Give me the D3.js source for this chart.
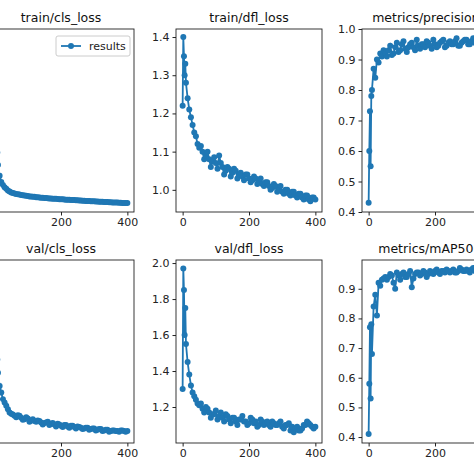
<!DOCTYPE html><html><head><meta charset="utf-8">
<script src="https://cdn.jsdelivr.net/npm/d3@7"></script>
<style>body{margin:0;background:#fff}</style></head><body><svg id="c" width="474" height="474"></svg>
<script>
const epochs=[0,2,4,6,8,10,15,20,25,30,35,40,45,50,60,70,80,90,100,110,120,130,140,150,160,170,180,190,200,210,220,230,240,250,260,270,280,290,300,310,320,330,340,350,360,370,380,390,400,
 55,65,75,85,95,105,115,125,135,145,155,165,175,185,195,205,215,225,235,245,255,265,275,285,295,305,315,325,335,345,355,365,375,385,395];
const trainCls=[1.8,1.3,0.95,0.75,0.62,0.54,0.47,0.43,0.41,0.395,0.385,0.375,0.368,0.362,0.355,0.35,0.345,0.342,0.338,0.335,0.333,0.330,0.328,0.326,0.324,0.322,0.321,0.319,0.318,0.316,0.315,0.313,0.312,0.311,0.309,0.308,0.307,0.305,0.304,0.303,0.302,0.300,0.299,0.298,0.297,0.296,0.295,0.294,0.293,
 0.358,0.352,0.348,0.343,0.340,0.336,0.334,0.331,0.329,0.327,0.325,0.323,0.321,0.320,0.318,0.317,0.315,0.314,0.312,0.311,0.310,0.308,0.307,0.306,0.305,0.303,0.302,0.301,0.300,0.298,0.297,0.296,0.295,0.294,0.293];
const trainDfl=[1.22,1.40,1.35,1.30,1.33,1.28,1.24,1.21,1.19,1.17,1.15,1.14,1.12,1.11,1.10,1.09,1.08,1.075,1.07,1.09,1.06,1.05,1.055,1.045,1.05,1.04,1.035,1.04,1.03,1.025,1.03,1.02,1.015,1.02,1.01,1.005,1.01,1.0,0.995,1.0,0.99,0.995,0.985,0.99,0.98,0.985,0.975,0.98,0.975,
 1.115,1.08,1.10,1.06,1.085,1.055,1.07,1.04,1.06,1.035,1.055,1.03,1.045,1.025,1.04,1.02,1.035,1.015,1.03,1.01,1.02,1.0,1.015,0.995,1.01,0.99,1.0,0.985,0.995,0.98,0.99,0.975,0.985,0.97,0.98];
const precision=[0.43,0.60,0.73,0.55,0.78,0.80,0.87,0.84,0.90,0.89,0.92,0.91,0.93,0.92,0.93,0.915,0.94,0.925,0.95,0.935,0.94,0.955,0.93,0.945,0.95,0.94,0.955,0.935,0.95,0.945,0.96,0.94,0.955,0.95,0.96,0.945,0.955,0.965,0.95,0.96,0.955,0.965,0.95,0.96,0.965,0.955,0.96,0.965,0.96,
 0.91,0.945,0.92,0.955,0.93,0.96,0.925,0.95,0.94,0.965,0.935,0.95,0.96,0.945,0.965,0.94,0.955,0.965,0.945,0.96,0.95,0.97,0.945,0.96,0.965,0.95,0.97,0.955,0.965,0.95,0.97,0.96,0.955,0.97,0.96];
const valCls=[2.8,2.5,2.2,2.0,1.8,1.6,1.4,1.3,1.2,1.15,1.1,1.05,1.0,0.98,0.95,0.96,0.92,0.9,0.91,0.88,0.87,0.88,0.85,0.84,0.86,0.83,0.82,0.83,0.8,0.81,0.79,0.8,0.78,0.79,0.77,0.76,0.77,0.75,0.76,0.74,0.75,0.73,0.74,0.72,0.73,0.72,0.73,0.72,0.72,
 0.97,0.93,0.95,0.89,0.93,0.86,0.9,0.86,0.87,0.82,0.85,0.81,0.84,0.79,0.82,0.78,0.81,0.77,0.8,0.76,0.78,0.75,0.77,0.74,0.76,0.73,0.75,0.72,0.74,0.71,0.73,0.72,0.71,0.73,0.71];
const valDfl=[1.3,1.97,1.85,1.6,1.75,1.55,1.45,1.38,1.32,1.28,1.26,1.24,1.22,1.21,1.19,1.2,1.17,1.16,1.18,1.15,1.14,1.16,1.13,1.14,1.12,1.13,1.15,1.12,1.11,1.13,1.12,1.1,1.12,1.11,1.1,1.12,1.1,1.11,1.09,1.1,1.11,1.09,1.08,1.07,1.08,1.1,1.11,1.09,1.09,
 1.22,1.17,1.19,1.14,1.16,1.13,1.17,1.12,1.15,1.11,1.14,1.1,1.13,1.12,1.1,1.14,1.11,1.09,1.13,1.1,1.12,1.09,1.11,1.1,1.12,1.08,1.1,1.07,1.06,1.09,1.07,1.1,1.12,1.1,1.08];
const mAP50=[0.41,0.58,0.77,0.53,0.78,0.68,0.84,0.88,0.81,0.92,0.91,0.93,0.935,0.94,0.94,0.945,0.9,0.945,0.95,0.94,0.95,0.905,0.95,0.955,0.95,0.955,0.95,0.955,0.96,0.955,0.96,0.955,0.96,0.96,0.955,0.96,0.965,0.96,0.96,0.965,0.96,0.965,0.96,0.965,0.965,0.96,0.965,0.965,0.965,
 0.93,0.95,0.92,0.955,0.93,0.955,0.94,0.96,0.935,0.955,0.945,0.96,0.94,0.96,0.95,0.965,0.95,0.96,0.965,0.955,0.965,0.955,0.97,0.96,0.965,0.955,0.97,0.96,0.965,0.96,0.97,0.96,0.965,0.97,0.96];
const xTicks=[0,200,400];
const panels=[
 {title:"train/cls_loss",data:trainCls,dom:[0.235,1.42],ticks:[],x0:-12,y0:29,legend:true},
 {title:"train/dfl_loss",data:trainDfl,dom:[0.942,1.421],ticks:[1.0,1.1,1.2,1.3,1.4],x0:176,y0:29},
 {title:"metrics/precision(B)",data:precision,dom:[0.4,1.0],ticks:[0.4,0.5,0.6,0.7,0.8,0.9,1.0],x0:362,y0:29},
 {title:"val/cls_loss",data:valCls,dom:[0.54,3.3],ticks:[],x0:-12,y0:260},
 {title:"val/dfl_loss",data:valDfl,dom:[1.0,2.017],ticks:[1.2,1.4,1.6,1.8,2.0],x0:176,y0:260},
 {title:"metrics/mAP50(B)",data:mAP50,dom:[0.38,0.997],ticks:[0.4,0.5,0.6,0.7,0.8,0.9],x0:362,y0:260}];
const W=146,H=183,col="#1f77b4";
const svg=d3.select("#c");
panels.forEach((p,i)=>{
 const g=svg.append("g").attr("transform",`translate(${p.x0},${p.y0})`);
 const x=d3.scaleLinear().domain([-20,420]).range([0,W]);
 const y=d3.scaleLinear().domain(p.dom).range([H,0]);
 g.append("clipPath").attr("id","cp"+i).append("rect").attr("width",W).attr("height",H);
 const pts=epochs.map((e,k)=>[e,p.data[k]]).filter(d=>d[1]!=null).sort((a,b)=>a[0]-b[0]);
 const pg=g.append("g").attr("clip-path",`url(#cp${i})`);
 pg.append("path").datum(pts).attr("fill","none").attr("stroke",col).attr("stroke-width",1.8)
  .attr("d",d3.line().x(d=>x(d[0])).y(d=>y(d[1])));
 pg.selectAll("circle").data(pts).join("circle").attr("cx",d=>x(d[0])).attr("cy",d=>y(d[1])).attr("r",3).attr("fill",col);
 const ax=g.append("g").attr("transform",`translate(0,${H})`).call(d3.axisBottom(x).tickValues(xTicks).tickSize(3.5).tickPadding(3));
 const ay=g.append("g").call(d3.axisLeft(y).tickValues(p.ticks).tickFormat(d3.format(".1f")).tickSize(3.5).tickPadding(3));
 [ax,ay].forEach(a=>{a.select(".domain").remove();a.selectAll("text").attr("font-family","DejaVu Sans").attr("font-size",11).attr("fill","#222");a.selectAll("line").attr("stroke","#222");});
 g.append("rect").attr("width",W).attr("height",H).attr("fill","none").attr("stroke","#222").attr("stroke-width",0.9);
 g.append("text").attr("x",W/2).attr("y",-7).attr("text-anchor","middle").attr("font-family","DejaVu Sans").attr("font-size",12.5).attr("fill","#111").text(p.title);
 if(p.legend){
  const lg=g.append("g").attr("transform",`translate(${W-78},7)`);
  lg.append("rect").attr("width",74).attr("height",20).attr("rx",2).attr("fill","#fff").attr("stroke","#ccc");
  lg.append("line").attr("x1",5).attr("x2",25).attr("y1",10).attr("y2",10).attr("stroke",col).attr("stroke-width",1.8);
  lg.append("circle").attr("cx",15).attr("cy",10).attr("r",3).attr("fill",col);
  lg.append("text").attr("x",33).attr("y",14).attr("font-family","DejaVu Sans").attr("font-size",11).attr("fill","#222").text("results");
 }
});
</script></body></html>
